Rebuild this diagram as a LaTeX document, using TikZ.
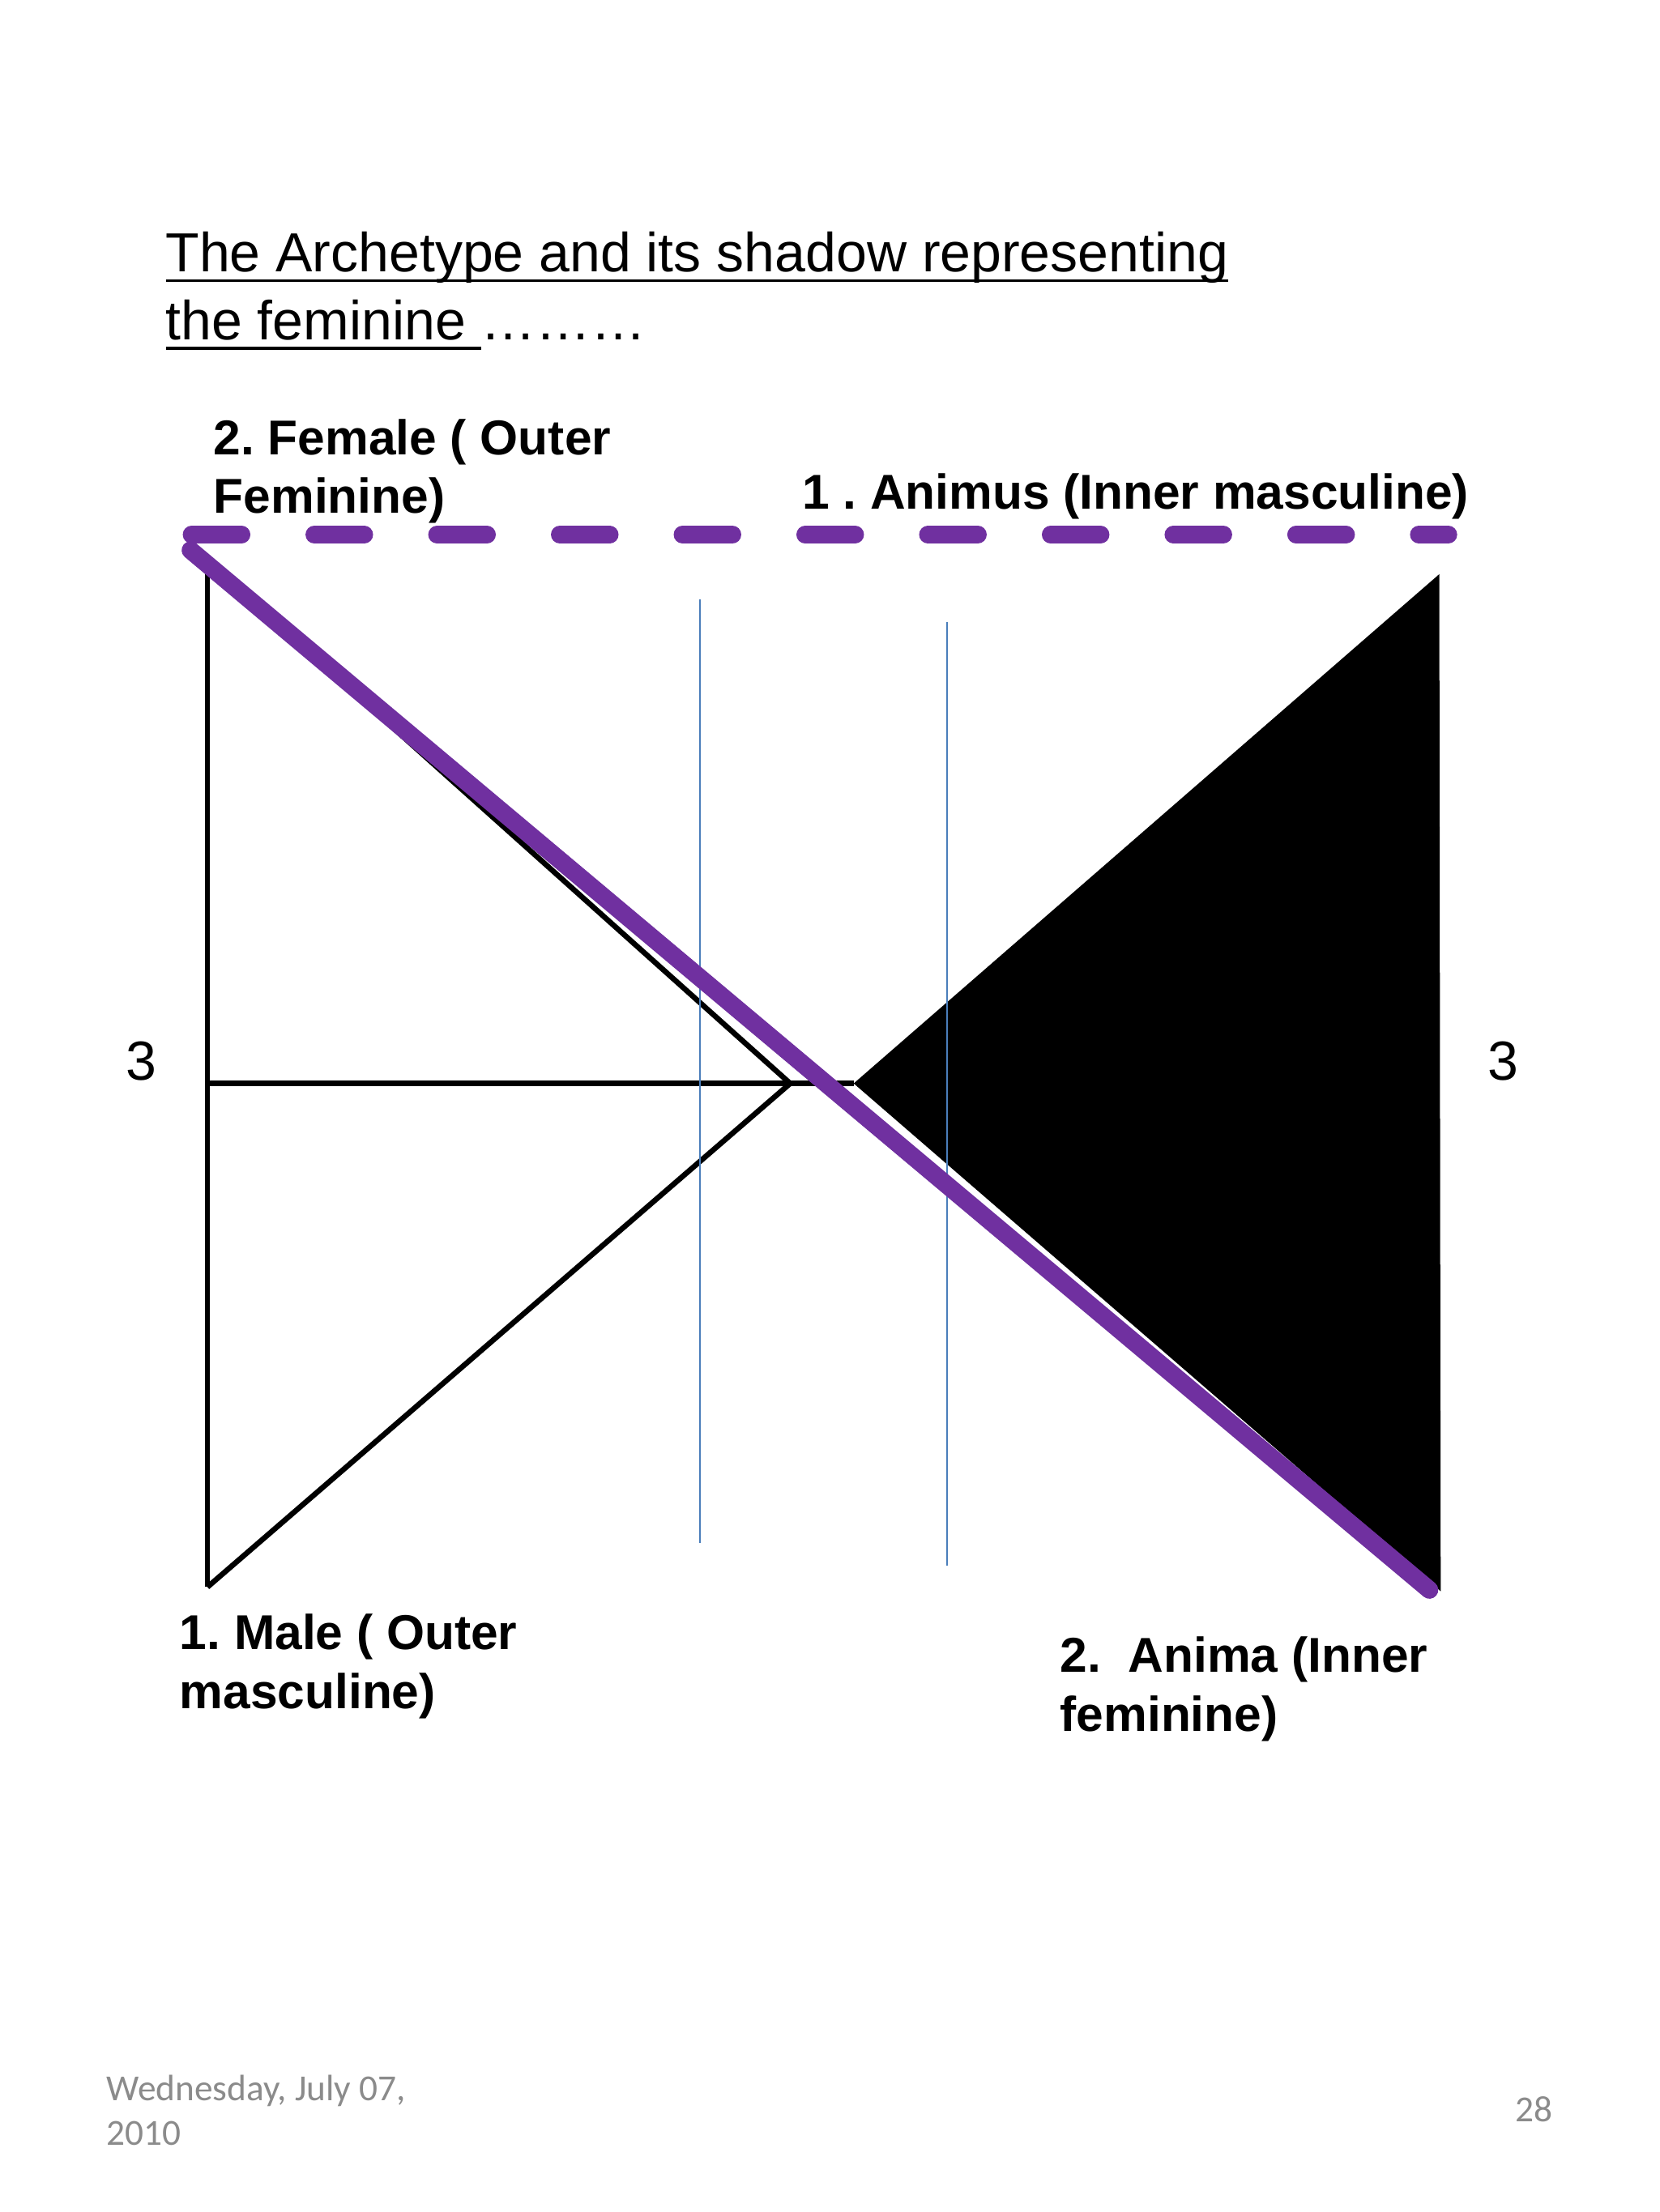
\documentclass[tikz,border=0pt]{standalone}
\usepackage{fontspec}
\setmainfont{Liberation Sans}
\newfontfamily\footfont{Carlito}
\usetikzlibrary{calc}
\frenchspacing
\definecolor{archpurple}{HTML}{7030A0}
\definecolor{archblue}{HTML}{4A7EBB}
\definecolor{footgray}{HTML}{8B8B8B}
\newcommand\ulword[1]{\setbox0\hbox{#1}\rlap{\rule[-3.3pt]{\wd0}{1pt}}\box0}
\tikzset{
  bowline/.style={line width=1.76pt, line join=round},
  shadowline/.style={archpurple, line width=5.8pt, line cap=round},
  bandline/.style={archblue, line width=0.6pt},
  rolename/.style={anchor=base west, align=left, inner sep=0pt,
    font=\bfseries\fontsize{16}{19.2}\selectfont},
  sidenum/.style={inner sep=0pt, font=\fontsize{18}{21.6}\selectfont},
  footnote/.style={inner sep=0pt, text=footgray,
    font=\footfont\fontsize{12}{14.6}\selectfont}
}

\begin{document}
\begin{tikzpicture}[x=0.0162cm, y=-0.0162cm]

  \useasboundingbox (0,0) rectangle (1176,1568);

  % title (base is the base of the last line)
  \node[anchor=base west, align=left, inner sep=0pt,
    font=\fontsize{18}{22}\selectfont] (title) at (117,240.6)
    {\ulword{The Archetype and its shadow representing}\\\ulword{the feminine }………};

  % corners of the two triangles
  \coordinate (ltop) at (147,398);
  \coordinate (lbot) at (147,1125);
  \coordinate (lmid) at (147,768);
  \coordinate (apex) at (560,768);
  \coordinate (rapex) at (605,768);
  \coordinate (rtop) at (1020,407);
  \coordinate (rbot) at (1021,1128);

  \draw[bowline] (ltop) -- (lbot);
  \draw[bowline] (ltop) -- (apex) -- (lbot);
  \draw[bowline] (lmid) -- (rapex);
  \fill[black] (rapex) -- (rtop) -- (rbot) -- cycle;

  % the two thin blue bands
  \draw[bandline] (496,425) -- (496,1094);
  \draw[bandline] (671,441) -- (671,1110);

  % purple shadow lines
  \coordinate (dstart) at (135.8,379);
  \coordinate (dend) at (1026.4,379);
  \draw[shadowline, dash pattern=on 16.3pt off 23.8pt] (dstart) -- (dend);
  \coordinate (sstart) at (135,390);
  \coordinate (send) at (1013,1127);
  \draw[shadowline] (sstart) -- (send);

  % role names
  \node[rolename] (female) at (151,364) {2. Female ( Outer\\Feminine)};
  \node[rolename] (animus) at (568,361) {1 . Animus (Inner masculine)};
  \node[rolename] (male) at (127,1211) {1. Male ( Outer\\masculine)};
  \node[rolename] (anima) at (751,1227) {2.\ \ Anima (Inner\\feminine)};

  \node[sidenum] (leftthree) at (100,752) {3};
  \node[sidenum] (rightthree) at (1065,752) {3};

  % footer
  \node[footnote, anchor=base west, align=left] (date) at (75,1520.5)
    {Wednesday, July 07,\\2010};
  \node[footnote, anchor=base east] (page) at (1101,1504) {28};

\end{tikzpicture}
\end{document}
